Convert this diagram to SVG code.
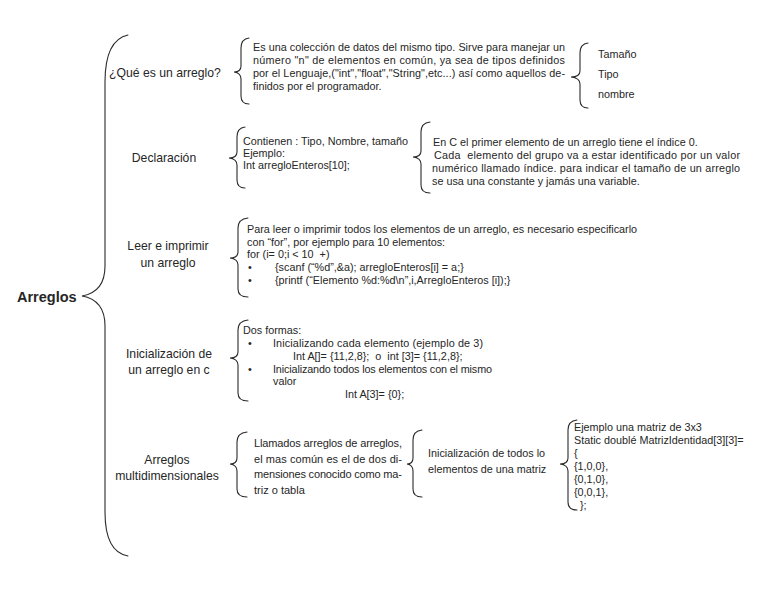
<svg xmlns="http://www.w3.org/2000/svg" width="768" height="594" viewBox="0 0 768 594" xml:space="preserve">
<style>
text{font-family:"Liberation Sans",Arial,sans-serif;fill:#262626;white-space:pre}
.t{font-size:10.8px}
.m{font-size:11px}
.lab{font-size:12.2px;text-anchor:middle}
.root{font-size:14.5px;font-weight:bold}
.br{fill:none;stroke:#2a2a2a;stroke-width:1.1;stroke-linecap:round}
</style>
<rect width="768" height="594" fill="#fff"/>
<g id="connectors">
<path class="br" d="M128,35 Q105,40 105,82 L105,266 Q105,292 82,296 Q105,300 105,326 L105,512 Q105,552 128,556"/>
<path class="br" d="M249,38 Q241,39 241,48 L241,66 Q241,72 234,72 Q241,73 241,79 L241,96 Q241,104 249,104"/>
<path class="br" d="M588,43 Q580,44 580,53 L580,71 Q580,77 571,77 Q580,78 580,84 L580,100 Q580,108 588,108"/>
<path class="br" d="M245,127 Q237,128 237,137 L237,152 Q237,158 229,158 Q237,159 237,165 L237,180 Q237,188 245,188"/>
<path class="br" d="M430,122 Q421,123 421,132 L421,151 Q421,157 413,157 Q421,158 421,164 L421,185 Q421,193 430,193"/>
<path class="br" d="M248,218 Q238,219 238,228 L238,252 Q238,258 230,258 Q238,259 238,265 L238,289 Q238,297 248,297"/>
<path class="br" d="M248,320 Q238,321 238,330 L238,352 Q238,358 230,358 Q238,359 238,365 L238,393 Q238,401 248,401"/>
<path class="br" d="M247,432 Q237,433 237,442 L237,458 Q237,464 230,464 Q237,465 237,471 L237,489 Q237,497 247,497"/>
<path class="br" d="M422,430 Q413,431 413,440 L413,458 Q413,464 407,464 Q413,465 413,471 L413,489 Q413,497 422,497"/>
<path class="br" d="M577,420 Q568,421 568,430 L568,458 Q568,464 560,464 Q568,465 568,471 L568,502 Q568,510 577,510"/>
</g>
<g id="root"><text class="root" x="17" y="302">Arreglos</text></g>
<g id="que-es">
<text class="lab" x="165" y="77">¿Qué es un arreglo?</text>
</g>
<g id="que-es-def">
<text class="t" x="253" y="50.5" textLength="312">Es una colección de datos del mismo tipo. Sirve para manejar un</text>
<text class="t" x="253" y="63.5" textLength="312">número "n" de elementos en común, ya sea de tipos definidos</text>
<text class="t" x="253" y="76.5" textLength="312">por el Lenguaje,("int","float","String",etc...) así como aquellos de-</text>
<text class="t" x="253" y="89.5">finidos por el programador.</text>
</g>
<g id="que-es-items">
<text class="t" x="598" y="58">Tamaño</text>
<text class="t" x="598" y="78">Tipo</text>
<text class="t" x="598" y="98">nombre</text>
</g>
<g id="declaracion">
<text class="lab" x="164" y="162">Declaración</text>
</g>
<g id="declaracion-contenido">
<text class="t" x="243" y="145">Contienen : Tipo, Nombre, tamaño</text>
<text class="t" x="243" y="157">Ejemplo:</text>
<text class="t" x="243" y="169">Int arregloEnteros[10];</text>
</g>
<g id="declaracion-indice">
<text class="t" x="433" y="145.5">En C el primer elemento de un arreglo tiene el índice 0.</text>
<text class="t" x="434" y="158.5" textLength="306">Cada  elemento del grupo va a estar identificado por un valor</text>
<text class="t" x="432" y="171.5" textLength="308">numérico llamado índice. para indicar el tamaño de un arreglo</text>
<text class="t" x="432" y="184.5">se usa una constante y jamás una variable.</text>
</g>
<g id="leer">
<text class="lab" x="168" y="250">Leer e imprimir</text>
<text class="lab" x="168" y="267">un arreglo</text>
</g>
<g id="leer-contenido">
<text class="t" x="247" y="232.5">Para leer o imprimir todos los elementos de un arreglo, es necesario especificarlo</text>
<text class="t" x="247" y="245.5">con “for”, por ejemplo para 10 elementos:</text>
<text class="t" x="247" y="257.5">for (i= 0;i &lt; 10  +)</text>
<text class="t" x="248" y="270.5">•</text>
<text class="t" x="275" y="270.5">{scanf (“%d”,&amp;a); arregloEnteros[i] = a;}</text>
<text class="t" x="248" y="283.5">•</text>
<text class="t" x="275" y="283.5">{printf (“Elemento %d:%d\n”,i,ArregloEnteros [i]);}</text>
</g>
<g id="inicializacion">
<text class="lab" x="169" y="358">Inicialización de</text>
<text class="lab" x="169" y="374">un arreglo en c</text>
</g>
<g id="inicializacion-contenido">
<text class="t" x="243" y="333.5">Dos formas:</text>
<text class="t" x="248" y="346.5">•</text>
<text class="t" x="273" y="346.5" textLength="210">Inicializando cada elemento (ejemplo de 3)</text>
<text class="t" x="293" y="359.5">Int A[]= {11,2,8};  o  int [3]= {11,2,8};</text>
<text class="t" x="248" y="372.5">•</text>
<text class="t" x="273" y="372.5" textLength="219">Inicializando todos los elementos con el mismo</text>
<text class="t" x="273" y="384.5">valor</text>
<text class="t" x="345" y="397.5">Int A[3]= {0};</text>
</g>
<g id="multidimensionales">
<text class="lab" x="167" y="464">Arreglos</text>
<text class="lab" x="167" y="480">multidimensionales</text>
</g>
<g id="multi-definicion">
<text class="m" x="254" y="447" textLength="148">Llamados arreglos de arreglos,</text>
<text class="m" x="254" y="462.5" textLength="148">el mas común es el de dos di-</text>
<text class="m" x="254" y="478" textLength="148">mensiones conocido como ma-</text>
<text class="m" x="254" y="493.5">triz o tabla</text>
</g>
<g id="multi-inicializacion">
<text class="t" x="428" y="457">Inicialización de todos lo</text>
<text class="t" x="428" y="473">elementos de una matriz</text>
</g>
<g id="multi-ejemplo">
<text class="t" x="574" y="431">Ejemplo una matriz de 3x3</text>
<text class="t" x="574" y="444">Static doublé MatrizIdentidad[3][3]=</text>
<text class="t" x="574" y="457">{</text>
<text class="t" x="574" y="470">{1,0,0},</text>
<text class="t" x="574" y="483">{0,1,0},</text>
<text class="t" x="574" y="496">{0,0,1},</text>
<text class="t" x="580" y="509">};</text>
</g>
</svg>
